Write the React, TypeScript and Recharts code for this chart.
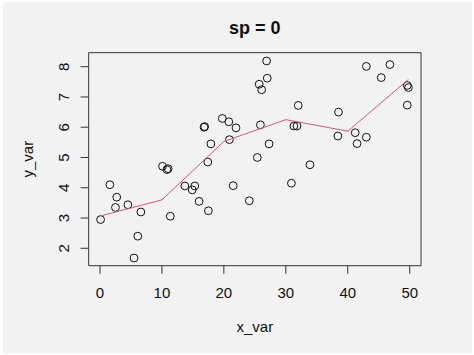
import { ScatterChart, Scatter, XAxis, YAxis, ReferenceArea } from 'recharts';

const X_VALUES = [
  0.1, 1.6, 2.7, 2.5, 4.5, 6.6, 6.1, 5.5, 10.1, 10.8,
  11.0, 11.35, 13.7, 14.9, 15.3, 16.0, 16.8, 16.9, 17.9, 17.4,
  17.5, 19.75, 20.8, 21.96, 20.9, 21.5, 24.1, 25.4, 25.9, 27.3,
  25.7, 26.1, 27.0, 26.9, 30.9, 31.3, 31.8, 32.0, 33.9, 38.5,
  38.4, 41.2, 41.5, 43.0, 43.0, 45.4, 46.8, 49.6, 49.8, 49.6,
];
const Y_VALUES = [
  2.95, 4.1, 3.69, 3.35, 3.44, 3.2, 2.4, 1.68, 4.71, 4.6,
  4.63, 3.06, 4.06, 3.93, 4.06, 3.55, 6.0, 6.02, 5.45, 4.85,
  3.24, 6.29, 6.18, 5.98, 5.59, 4.07, 3.57, 5.0, 6.08, 5.45,
  7.42, 7.24, 7.62, 8.19, 4.15, 6.04, 6.04, 6.72, 4.76, 6.5,
  5.71, 5.82, 5.46, 5.67, 8.01, 7.64, 8.07, 7.38, 7.31, 6.73,
];

// fitted spline (sp = 0 -> piecewise linear through the knots)
const FIT_X = [0.1, 10, 20, 30, 40, 49.8];
const FIT_Y = [3.07, 3.6, 5.53, 6.25, 5.87, 7.58];

const X_TICKS = [0, 10, 20, 30, 40, 50];
const Y_TICKS = [2, 3, 4, 5, 6, 7, 8];
const X_DOMAIN: [number, number] = [-1.82, 51.82];
const Y_DOMAIN: [number, number] = [1.425, 8.4625];

const FONT = '"Liberation Sans", Arial, Helvetica, sans-serif';
const INK = '#333';

const points = X_VALUES.map((x, i) => ({ x, y: Y_VALUES[i] }));
const fit = FIT_X.map((x, i) => ({ x, y: FIT_Y[i] }));

const OpenCircle = (props: any) => (
  <circle cx={props.cx} cy={props.cy} r={3.9} fill="none" stroke="#111" strokeWidth={1} />
);

const YTick = ({ x, y, payload }: any) => (
  <text
    x={x - 10}
    y={y}
    transform={`rotate(-90, ${x - 10}, ${y})`}
    textAnchor="middle"
    fontSize={15}
    fontFamily={FONT}
    fill="#111"
  >
    {payload.value}
  </text>
);

export default function App() {
  return (
    <div style={{ position: 'absolute', left: 0, top: 0, width: 474, height: 355, background: '#fff' }}>
      <div style={{ position: 'absolute', left: 3, top: 2, width: 469, height: 351, background: '#f2f2f2' }} />
      <div
        style={{
          position: 'absolute',
          left: 88.7,
          width: 332.3,
          top: 18.8,
          lineHeight: '18px',
          textAlign: 'center',
          fontFamily: FONT,
          fontWeight: 'bold',
          fontSize: 18,
          color: '#111',
        }}
      >
        sp = 0
      </div>
      <div style={{ position: 'absolute', left: 0, top: 0 }}>
        <ScatterChart width={474} height={355} margin={{ top: 52.7, right: 53, bottom: 14.3, left: 0 }}>
          <XAxis
            type="number"
            dataKey="x"
            domain={X_DOMAIN}
            ticks={X_TICKS}
            allowDataOverflow
            axisLine={false}
            tickLine={{ stroke: INK }}
            tickSize={8}
            tickMargin={14}
            height={75}
            tick={{ fontSize: 15, fontFamily: FONT, fill: '#111' }}
            label={{
              content: ({ viewBox }: any) => (
                <text
                  x={viewBox.x + viewBox.width / 2}
                  y={viewBox.y + 66}
                  textAnchor="middle"
                  fontSize={15}
                  fontFamily={FONT}
                  fill="#111"
                >
                  x_var
                </text>
              ),
            }}
          />
          <YAxis
            type="number"
            dataKey="y"
            domain={Y_DOMAIN}
            ticks={Y_TICKS}
            allowDataOverflow
            axisLine={false}
            tickLine={{ stroke: INK }}
            tickSize={8}
            tickMargin={2}
            width={88.7}
            tick={<YTick />}
            label={{
              content: ({ viewBox }: any) => {
                const cx = viewBox.x + 33.5;
                const cy = viewBox.y + viewBox.height / 2;
                return (
                  <text
                    x={cx}
                    y={cy}
                    transform={`rotate(-90, ${cx}, ${cy})`}
                    textAnchor="middle"
                    fontSize={15}
                    fontFamily={FONT}
                    fill="#111"
                  >
                    y_var
                  </text>
                );
              },
            }}
          />
          <ReferenceArea
            x1={X_DOMAIN[0]}
            x2={X_DOMAIN[1]}
            y1={Y_DOMAIN[0]}
            y2={Y_DOMAIN[1]}
            fill="none"
            stroke={INK}
            strokeWidth={1}
            ifOverflow="visible"
          />
          <Scatter data={points} shape={OpenCircle} isAnimationActive={false} />
          <Scatter
            data={fit}
            line={{ stroke: '#DF536B', strokeWidth: 1 }}
            lineJointType="linear"
            shape={() => <g />}
            isAnimationActive={false}
          />
        </ScatterChart>
      </div>
    </div>
  );
}
